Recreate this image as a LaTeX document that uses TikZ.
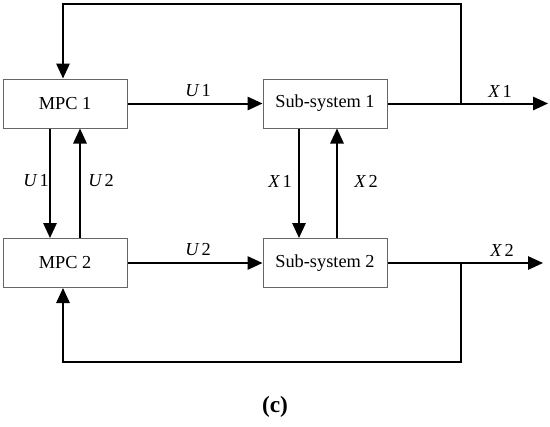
\documentclass[tikz,border=0pt]{standalone}
\usepackage{fontspec}
\setmainfont{Liberation Serif}
\usetikzlibrary{arrows.meta}
\tikzset{
  blockbox/.style={draw=black!60,line width=.6pt,minimum width=74.4pt,minimum height=29.4pt,font=\fontsize{11}{13}\selectfont},
  sig/.style={line width=1.2pt,-{Triangle[length=9pt,width=8pt]}},
  wire/.style={line width=1.2pt},
  lbl/.style={font=\fontsize{11}{13}\selectfont}
}
\newcommand{\vname}[2]{{\itshape #1}\,#2}
\begin{document}
\begin{tikzpicture}[x=0.6pt,y=-0.6pt]
\useasboundingbox(0,0)rectangle(550,426);
%blocks
\node[blockbox](mpca)at(65,103.5){MPC 1};
\node[blockbox](mpcb)at(65,263){MPC 2};
\node[blockbox](suba)at(325,103.5){Sub-system 1};
\node[blockbox](subb)at(325,263){Sub-system 2};
%outputs
\coordinate(tapa)at(461,103.5);
\coordinate(tapb)at(461,263);
\coordinate(outa)at(548,103.5);
\coordinate(outb)at(543,263);
%forward signals
\draw[sig](mpca)--(suba);
\draw[sig](mpcb)--(subb);
\draw[wire](suba)--(tapa);
\draw[sig](tapa)--(outa);
\draw[wire](subb)--(tapb);
\draw[sig](tapb)--(outb);
%coupling between blocks
\draw[sig]([xshift=-15*0.6pt]mpca.south)--([xshift=-15*0.6pt]mpcb.north);
\draw[sig]([xshift=15*0.6pt]mpcb.north)--([xshift=15*0.6pt]mpca.south);
\draw[sig]([xshift=-26*0.6pt]suba.south)--([xshift=-26*0.6pt]subb.north);
\draw[sig]([xshift=12*0.6pt]subb.north)--([xshift=12*0.6pt]suba.south);
%feedback
\draw[sig](tapa)--(461,4)-|([xshift=-2*0.6pt]mpca.north);
\draw[sig](tapb)--(461,362)-|([xshift=-2*0.6pt]mpcb.south);
%labels
\node[lbl](ua)at(198,91){\vname{U}{1}};
\node[lbl](ub)at(198,250){\vname{U}{2}};
\node[lbl](xa)at(500,91){\vname{X}{1}};
\node[lbl](xb)at(502,250){\vname{X}{2}};
\node[lbl](ul)at(36,181){\vname{U}{1}};
\node[lbl](ur)at(101,181){\vname{U}{2}};
\node[lbl](xl)at(280,181){\vname{X}{1}};
\node[lbl](xr)at(366,181){\vname{X}{2}};
\node[font=\fontsize{14}{16}\selectfont\bfseries](cap)at(275,407){(c)};
\end{tikzpicture}
\end{document}
